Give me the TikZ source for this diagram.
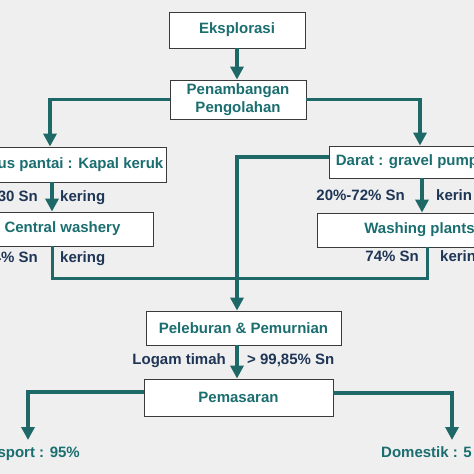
\documentclass[tikz,border=0pt]{standalone}
\usepackage{fontspec}
\setmainfont{Liberation Sans}
\usetikzlibrary{arrows.meta}
\definecolor{bg}{HTML}{EFEFEF}
\definecolor{flowc}{HTML}{1F6868}
\definecolor{txtteal}{HTML}{1B6E70}
\definecolor{navy}{HTML}{1E3556}
\definecolor{border}{HTML}{3A3A3A}
\begin{document}
\begin{tikzpicture}[x=1pt,y=-1pt,
  box/.style={draw=border, line width=0.9pt, fill=white, text=txtteal,
    font=\bfseries\fontsize{15}{18}\selectfont, inner sep=0pt, align=center},
  lbl/.style={text=navy, font=\bfseries\fontsize{15}{17}\selectfont, inner sep=0pt},
  outlbl/.style={text=txtteal, font=\bfseries\fontsize{15}{17}\selectfont, inner sep=0pt},
  flow/.style={draw=flowc, line width=3.6pt},
  thinflow/.style={draw=flowc, line width=3pt},
  arr/.style={flow, -{Triangle[width=13pt,length=13pt]}}]
\useasboundingbox (0,0) rectangle (474,474);
\clip (0,0) rectangle (474,474);
\fill[bg] (0,0) rectangle (474,474);
% boxes
\node[box, minimum width=136pt, minimum height=36pt] (eks) at (237,30) {Eksplorasi};
\node[box, minimum width=136pt, minimum height=39pt] (pen) at (238,99.5) {Penambangan\\Pengolahan};
\node[box, minimum width=171pt, minimum height=35pt] (lep) at (80.5,164.5) {us pantai : Kapal keruk};
\node[box, minimum width=181pt, minimum height=34pt] (cw) at (62.5,229) {Central washery};
\node[box, minimum width=156pt, minimum height=32pt] (dar) at (407,162) {Darat : gravel pump};
\node[box, minimum width=205pt, minimum height=34pt] (wp) at (419.5,230) {Washing plants};
\node[box, minimum width=195pt, minimum height=34pt] (pel) at (243.5,328) {Peleburan \& Pemurnian};
\node[box, minimum width=189pt, minimum height=37pt] (pem) at (238.5,397.5) {Pemasaran};
% labels
\node[lbl, anchor=mid east] (l1) at (38,199) {30 Sn};
\node[lbl, anchor=mid west] (l2) at (60,199) {kering};
\node[lbl, anchor=mid east] (l3) at (38,260) {4\% Sn};
\node[lbl, anchor=mid west] (l4) at (60,260) {kering};
\node[lbl, anchor=mid east] (r1) at (405,198) {20\%-72\% Sn};
\node[lbl, anchor=mid west] (r2) at (436,198) {kerin};
\node[lbl, anchor=mid east] (r3) at (419,259) {74\% Sn};
\node[lbl, anchor=mid west] (r4) at (440,259) {kerin};
\node[lbl, anchor=mid east] (m1) at (226,362) {Logam timah};
\node[lbl, anchor=mid west] (m2) at (247,362) {> 99,85\% Sn};
\node[outlbl, anchor=mid east] (ex) at (80,455) {sport : 95\%};
\node[outlbl, anchor=mid west] (do) at (381,455) {Domestik : 5};
% free ends and junction
\coordinate (expin) at (28,440);
\coordinate (domin) at (452,440);
\coordinate (j) at (237,278);
% connectors
\draw[arr] (eks.south) -- (eks.south |- pen.north);
\draw[arr] (pen.west) -| (lep.north -| 50,0);
\draw[arr] (pen.east) -| (dar.north -| 420,0);
\draw[arr] (lep.south -| 52,0) -- (cw.north -| 52,0);
\draw[thinflow] (cw.south -| 52,0) |- (j);
\draw[arr] (dar.west |- 0,157) -| (pel.north -| 237,0);
\draw[arr] (dar.south -| 422,0) -- (wp.north -| 422,0);
\draw[thinflow] (wp.south -| 427,0) |- (j);
\draw[arr] (pel.south -| 237,0) -- (pem.north -| 237,0);
\draw[arr] (pem.west |- 0,392) -| (expin);
\draw[arr] (pem.east |- 0,393) -| (domin);
\end{tikzpicture}
\end{document}
